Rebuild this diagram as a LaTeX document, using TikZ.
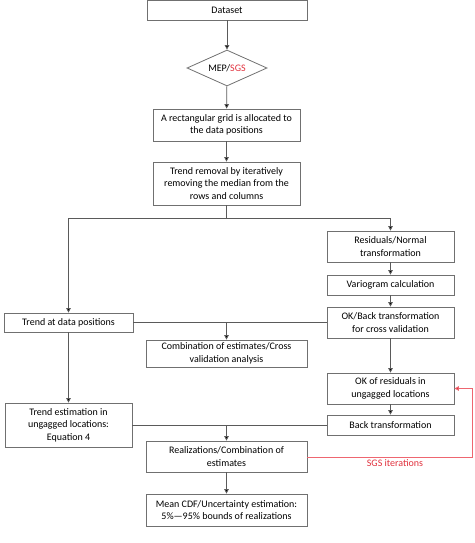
\documentclass[tikz,border=0pt]{standalone}
\usepackage{fontspec}
\setmainfont{Carlito}
\usetikzlibrary{shapes.geometric,arrows.meta}
\definecolor{boxgray}{HTML}{707070}
\definecolor{linegray}{HTML}{5A5A5A}
\definecolor{sgsred}{HTML}{E0303C}
\definecolor{loopred}{HTML}{EE6670}
\begin{document}
\begin{tikzpicture}[x=1pt,y=-1pt,
  box/.style={draw=boxgray,line width=0.8pt,rectangle,inner sep=1pt,align=center,
    font=\fontsize{10}{12.5}\selectfont},
  conn/.style={draw=linegray,line width=0.8pt},
  arr/.style={conn,-{Triangle[length=4.5pt,width=4.5pt,fill=black]}},
  redarr/.style={draw=loopred,line width=0.9pt,-{Triangle[length=4.5pt,width=4.5pt,fill=sgsred]}}]
\useasboundingbox (0,0) rectangle (474,543);

\node[box,minimum width=160pt,minimum height=20pt] (dataset) at (227,10) {Dataset};
\node[box,shape=diamond,aspect=2.2,inner sep=0pt,minimum width=80pt,minimum height=36pt] (mep) at (227,68) {MEP/\textcolor{sgsred}{SGS}};
\node[box,minimum width=147pt,minimum height=32pt] (grid) at (226.5,125) {A rectangular grid is allocated to\\the data positions};
\node[box,minimum width=147pt,minimum height=43pt] (trendrem) at (226.5,183.5) {Trend removal by iteratively\\removing the median from the\\rows and columns};
\node[box,minimum width=127pt,minimum height=31pt] (resid) at (390.5,246.5) {Residuals/Normal\\transformation};
\node[box,minimum width=127pt,minimum height=20pt] (vario) at (390.5,285) {Variogram calculation};
\node[box,minimum width=127pt,minimum height=31pt] (okback) at (390.5,322.5) {OK/Back transformation\\for cross validation};
\node[box,minimum width=129pt,minimum height=19pt] (trenddata) at (68.5,322.5) {Trend at data positions};
\node[box,minimum width=161pt,minimum height=27pt] (comb) at (226.5,353.5) {Combination of estimates/Cross\\validation analysis};
\node[box,minimum width=127pt,minimum height=31pt] (okres) at (390.5,388.5) {OK of residuals in\\ungagged locations};
\node[box,minimum width=127pt,minimum height=20pt] (backtr) at (390.5,425) {Back transformation};
\node[box,minimum width=127pt,minimum height=44pt] (trendest) at (68.5,425) {Trend estimation in\\ungagged locations:\\Equation 4};
\node[box,minimum width=161pt,minimum height=31pt] (real) at (226.5,456.5) {Realizations/Combination of\\estimates};
\node[box,minimum width=161pt,minimum height=32pt] (mean) at (226.5,510) {Mean CDF/Uncertainty estimation:\\5\%—95\% bounds of realizations};

\draw[arr] (dataset) -- (mep);
\draw[arr] (mep) -- (grid);
\draw[arr] (grid) -- (trendrem);
\coordinate (split) at (226.5,218.5);
\draw[conn] (trendrem) -- (split);
\draw[arr] (split) -| (resid);
\draw[arr] (split) -| (trenddata);
\draw[arr] (resid) -- (vario);
\draw[arr] (vario) -- (okback);
\draw[conn] (trenddata) -- (okback);
\coordinate (j1) at (comb.north |- trenddata.east);
\draw[arr] (j1) -- (comb);
\draw[arr] (trenddata) -- (trendest);
\draw[arr] (okback) -- (okres);
\draw[arr] (okres) -- (backtr);
\draw[conn] (trendest) -- (backtr);
\coordinate (j2) at (real.north |- backtr.west);
\draw[arr] (j2) -- (real);
\draw[arr] (real) -- (mean);

\coordinate (loopc) at (472,457);
\draw[redarr] (real.east |- loopc) -- (loopc) |- (okres.east);
\node[text=sgsred,font=\fontsize{10}{11}\selectfont] (sgslabel) at (395,463) {SGS iterations};
\end{tikzpicture}
\end{document}
